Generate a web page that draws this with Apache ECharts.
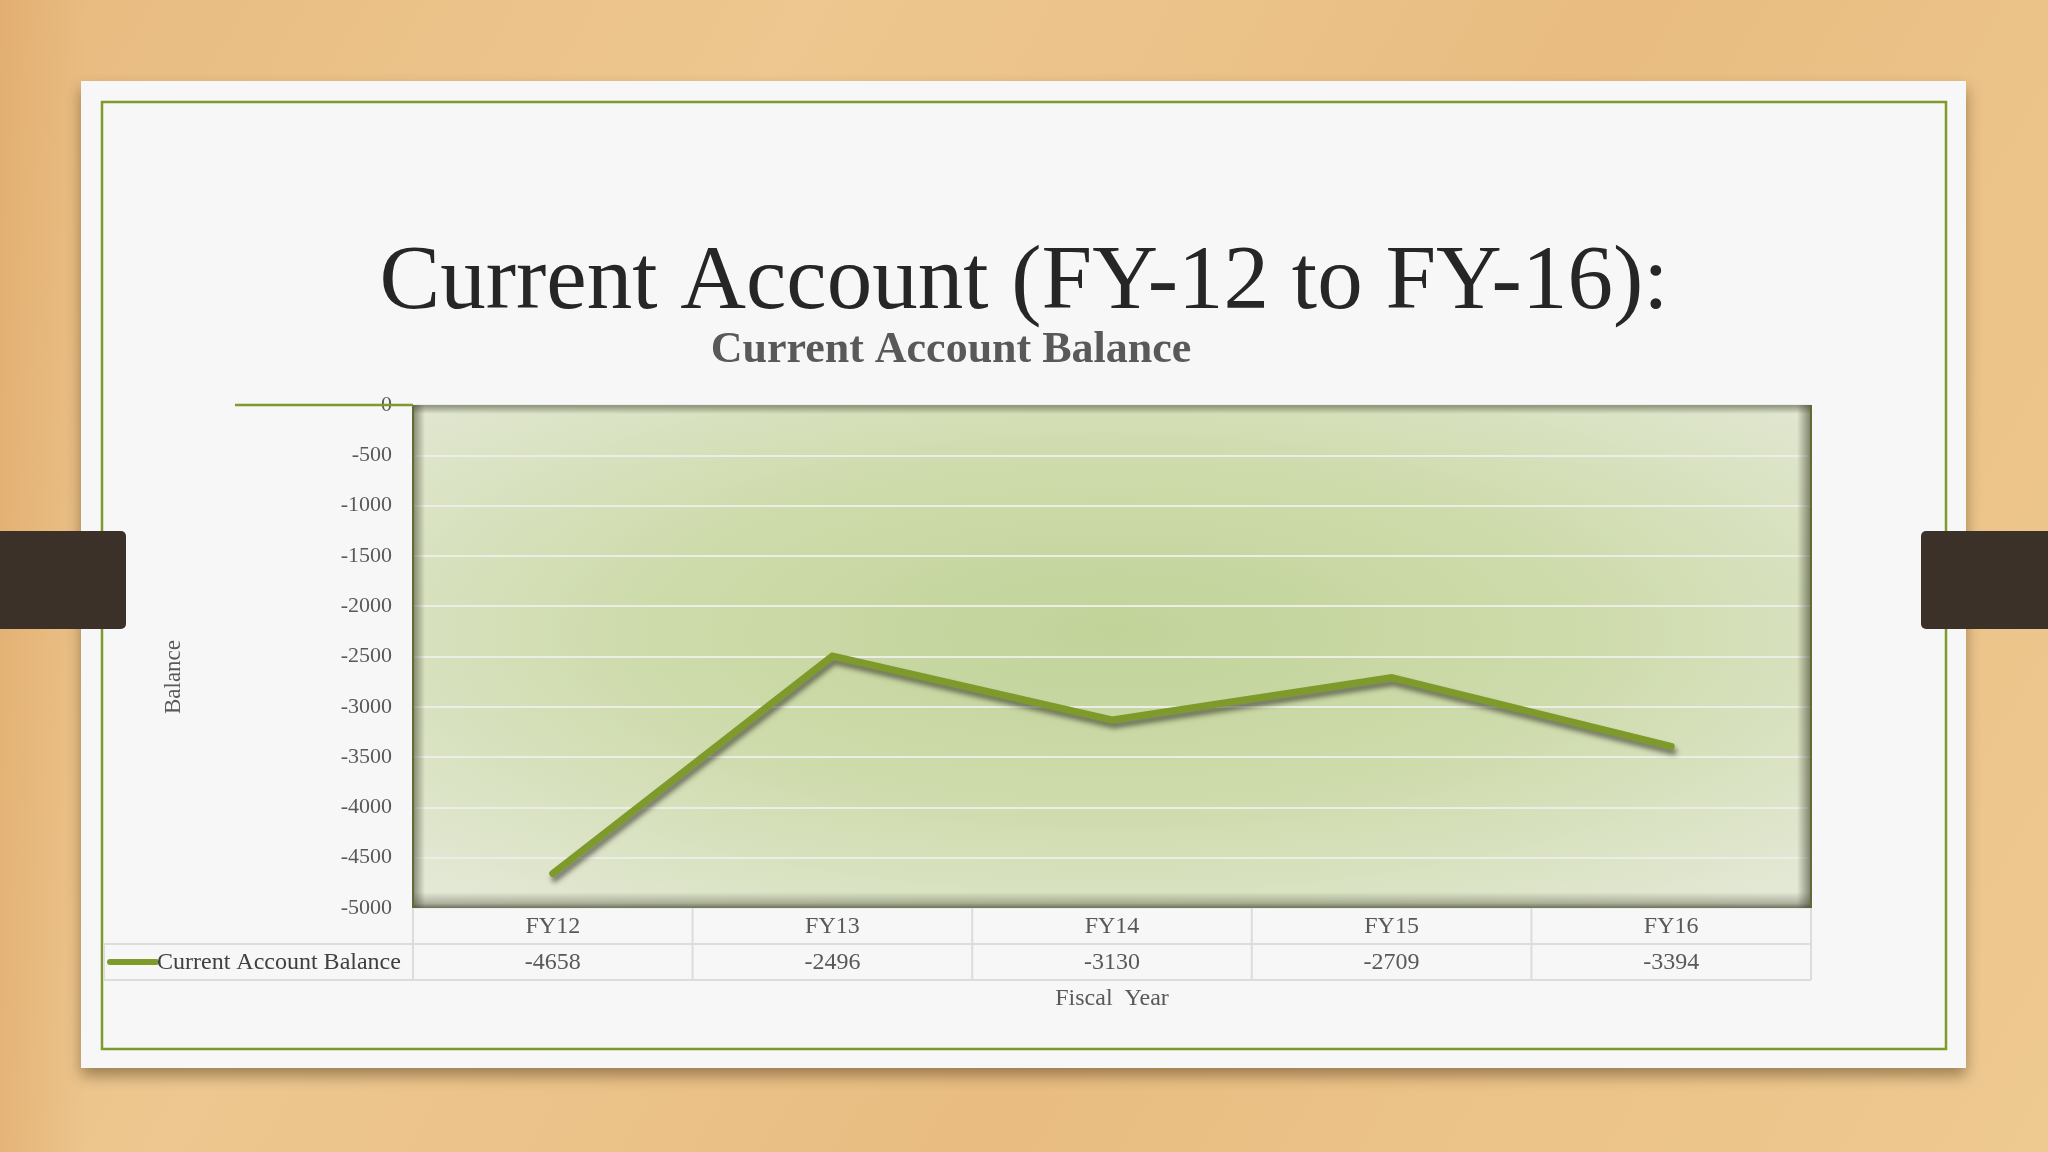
<!DOCTYPE html>
<html>
<head>
<meta charset="utf-8">
<style>
html,body{margin:0;padding:0;width:2048px;height:1152px;overflow:hidden;}
#chart{width:2048px;height:1152px;}
</style>
<script src="https://cdn.jsdelivr.net/npm/echarts@6/dist/echarts.min.js"></script>
</head>
<body>
<div id="chart"></div>
<script>
// ---- data ----
const categories = ['FY12', 'FY13', 'FY14', 'FY15', 'FY16'];
const balanceValues = [-4658, -2496, -3130, -2709, -3394];
const seriesName = 'Current Account Balance';
const yTicks = { min: -5000, max: 0, interval: 500 };
const slideTitle = 'Current Account (FY-12 to FY-16):';
const chartTitle = 'Current Account Balance';
const xAxisTitle = 'Fiscal  Year';
const yAxisTitle = 'Balance';

// ---- layout ----
const W = 2048, H = 1152;
const GL = 413, GT = 405, GR = 1811, GB = 908;
const ROW1 = 944, ROW2 = 980, TABLE_LEFT = 104;
const FONT = '"Liberation Serif", "DejaVu Serif", serif';
const GREEN = '#7d9a2b';
const cellW = (GR - GL) / categories.length;
const PH = GB - GT;

const chart = echarts.init(document.getElementById('chart'), null, { renderer: 'canvas', width: W, height: H });

const graphics = [];
// wood background
graphics.push({ type: 'rect', z: -100, shape: { x: 0, y: 0, width: W, height: H },
  style: { fill: { type: 'linear', x: 0, y: 0, x2: 1, y2: 1, colorStops: [
    { offset: 0, color: '#e8bb80' }, { offset: 0.3, color: '#edc78f' },
    { offset: 0.6, color: '#e9bd82' }, { offset: 1, color: '#eec990' }] } } });
graphics.push({ type: 'rect', z: -99, shape: { x: 0, y: 0, width: 90, height: H },
  style: { fill: { type: 'linear', x: 0, y: 0, x2: 1, y2: 0, colorStops: [
    { offset: 0, color: 'rgba(220,160,95,0.45)' }, { offset: 1, color: 'rgba(220,160,95,0)' }] } } });
// card
graphics.push({ type: 'rect', z: -80, shape: { x: 81, y: 81, width: 1885, height: 987 },
  style: { fill: '#f7f7f8', shadowColor: 'rgba(60,40,10,0.45)', shadowBlur: 14, shadowOffsetX: 0, shadowOffsetY: 8 } });
// green frame
graphics.push({ type: 'rect', z: -70, shape: { x: 102, y: 102, width: 1844, height: 947 },
  style: { fill: 'none', stroke: GREEN, lineWidth: 2.5 } });
// side tabs (on top of card)
graphics.push({ type: 'rect', z: -65, shape: { x: 0, y: 531, width: 126, height: 98, r: [0, 5, 5, 0] }, style: { fill: '#3b3129' } });
graphics.push({ type: 'rect', z: -65, shape: { x: 1921, y: 531, width: 127, height: 98, r: [5, 0, 0, 5] }, style: { fill: '#3b3129' } });
// plot background (elliptical radial via scaled square)
graphics.push({ type: 'rect', z: -60, x: GL, y: GT, scaleX: (GR - GL) / PH, scaleY: 1,
  shape: { x: 0, y: 0, width: PH, height: PH },
  style: { fill: { type: 'radial', x: 0.5, y: 0.45, r: 0.75, colorStops: [
    { offset: 0, color: '#c1d399' }, { offset: 0.45, color: '#cedbab' }, { offset: 1, color: '#e6eadb' }] } } });
// inner shadows of the plot box
const sh = 'rgba(70,72,50,';
graphics.push({ type: 'rect', z: 5, silent: true, shape: { x: GL, y: GT, width: GR - GL, height: 9 },
  style: { fill: { type: 'linear', x: 0, y: 0, x2: 0, y2: 1, colorStops: [{ offset: 0, color: sh + '0.55)' }, { offset: 1, color: sh + '0)' }] } } });
graphics.push({ type: 'rect', z: 5, silent: true, shape: { x: GL, y: GB - 16, width: GR - GL, height: 16 },
  style: { fill: { type: 'linear', x: 0, y: 1, x2: 0, y2: 0, colorStops: [{ offset: 0, color: sh + '0.75)' }, { offset: 0.3, color: sh + '0.35)' }, { offset: 1, color: sh + '0)' }] } } });
graphics.push({ type: 'rect', z: 5, silent: true, shape: { x: GL, y: GT, width: 12, height: PH },
  style: { fill: { type: 'linear', x: 0, y: 0, x2: 1, y2: 0, colorStops: [{ offset: 0, color: sh + '0.6)' }, { offset: 1, color: sh + '0)' }] } } });
graphics.push({ type: 'rect', z: 5, silent: true, shape: { x: GR - 14, y: GT, width: 14, height: PH },
  style: { fill: { type: 'linear', x: 1, y: 0, x2: 0, y2: 0, colorStops: [{ offset: 0, color: sh + '0.65)' }, { offset: 1, color: sh + '0)' }] } } });
graphics.push({ type: 'line', z: 6, shape: { x1: GL, y1: GT, x2: GL, y2: GB }, style: { stroke: '#5f6b35', lineWidth: 2 } });
graphics.push({ type: 'line', z: 6, shape: { x1: GR, y1: GT, x2: GR, y2: GB }, style: { stroke: '#5f6b35', lineWidth: 2 } });
// zero line extending left
graphics.push({ type: 'line', z: 6, shape: { x1: 235, y1: GT, x2: GL, y2: GT }, style: { stroke: GREEN, lineWidth: 2.5 } });

// data table grid lines
const tableStroke = { stroke: '#dcdcdc', lineWidth: 2 };
graphics.push({ type: 'line', z: 1, shape: { x1: TABLE_LEFT, y1: ROW1, x2: GR, y2: ROW1 }, style: tableStroke });
graphics.push({ type: 'line', z: 1, shape: { x1: TABLE_LEFT, y1: ROW2, x2: GR, y2: ROW2 }, style: tableStroke });
graphics.push({ type: 'line', z: 1, shape: { x1: TABLE_LEFT, y1: ROW1, x2: TABLE_LEFT, y2: ROW2 }, style: tableStroke });
for (let i = 0; i <= categories.length; i++) {
  const x = GL + i * cellW;
  graphics.push({ type: 'line', z: 1, shape: { x1: x, y1: GB, x2: x, y2: ROW2 }, style: tableStroke });
}
// legend key in table
graphics.push({ type: 'line', z: 2, shape: { x1: 110, y1: (ROW1 + ROW2) / 2, x2: 156, y2: (ROW1 + ROW2) / 2 },
  style: { stroke: GREEN, lineWidth: 6, lineCap: 'round' } });
graphics.push({ type: 'text', z: 2, x: 157, y: (ROW1 + ROW2) / 2 + 1,
  style: { text: seriesName, font: '24px ' + FONT, fill: '#404040', verticalAlign: 'middle', align: 'left' } });
// y axis title
graphics.push({ type: 'text', z: 2, x: 174, y: 677, rotation: Math.PI / 2,
  style: { text: yAxisTitle, font: '23px ' + FONT, fill: '#595959', align: 'center', verticalAlign: 'middle' } });

chart.setOption({
  animation: false,
  title: [
    { text: slideTitle, left: 'center', top: 234,
      textStyle: { fontFamily: FONT, fontSize: 91, fontWeight: 'normal', color: '#262626' } },
    { text: chartTitle, left: 946, top: 324, textAlign: 'center',
      textStyle: { fontFamily: FONT, fontSize: 44, fontWeight: 'bold', color: '#595959' } }
  ],
  graphic: graphics,
  grid: { left: GL, top: GT, width: GR - GL, height: PH, containLabel: false },
  xAxis: [
    { type: 'category', data: categories, position: 'bottom', boundaryGap: true,
      axisLine: { show: false }, axisTick: { show: false },
      axisLabel: { margin: 7, fontFamily: FONT, fontSize: 24, color: '#595959' },
      name: xAxisTitle, nameLocation: 'middle', nameGap: 79,
      nameTextStyle: { fontFamily: FONT, fontSize: 24, color: '#595959' } },
    { type: 'category', data: balanceValues.map(String), position: 'bottom', offset: 36, boundaryGap: true,
      axisLine: { show: false }, axisTick: { show: false },
      axisLabel: { margin: 7, fontFamily: FONT, fontSize: 24, color: '#595959' } }
  ],
  yAxis: {
    type: 'value', min: yTicks.min, max: yTicks.max, interval: yTicks.interval,
    axisLine: { show: false }, axisTick: { show: false },
    axisLabel: { margin: 21, fontFamily: FONT, fontSize: 22, color: '#595959', formatter: v => String(v) },
    splitLine: { show: true, lineStyle: { color: '#eceee6', width: 2 } }
  },
  series: [{
    name: seriesName, type: 'line', data: balanceValues, xAxisIndex: 0,
    symbol: 'none', z: 10,
    lineStyle: { color: GREEN, width: 7, cap: 'round', join: 'miter',
      shadowColor: 'rgba(30,30,20,0.55)', shadowBlur: 5, shadowOffsetX: 2, shadowOffsetY: 5 }
  }]
});
</script>
</body>
</html>
